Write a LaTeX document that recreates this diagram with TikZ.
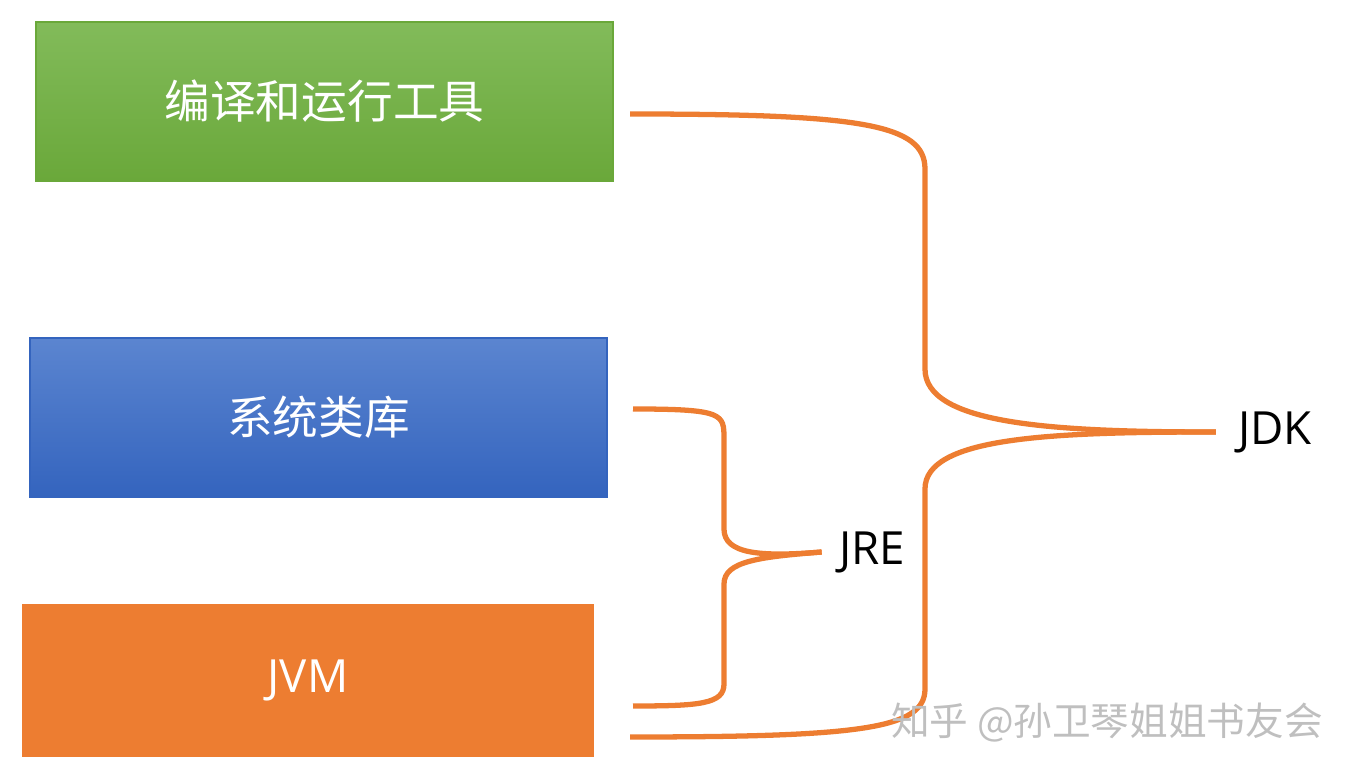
\documentclass[tikz,border=0pt]{standalone}
\usepackage{fontspec}
\setmainfont{Open Sans}
\newfontfamily\cjk{Noto Sans CJK SC}
\definecolor{brOrange}{HTML}{ED7D31}
\definecolor{gTop}{HTML}{82BB5A}
\definecolor{gBot}{HTML}{6AA83A}
\definecolor{bTop}{HTML}{5B85D0}
\definecolor{bBot}{HTML}{3464BE}

\begin{document}
\begin{tikzpicture}
		\tikzstyle{Box} = [rectangle, text centered, text=white, font=\cjk\fontsize{13}{15}\selectfont, line width=0.6pt]
		\tikzstyle{brace} = [draw=brOrange, line width=1.5pt]
		\tikzstyle{Label} = [font=\fontsize{13}{15}\selectfont, text=black]

		\useasboundingbox (0,0) rectangle (13.64,7.79);

		\node (tools) [Box, minimum width=5.77cm, minimum height=1.59cm, top color=gTop, bottom color=gBot, draw=gBot] at (3.245,6.775) {编译和运行工具};
		\node (lib) [Box, minimum width=5.77cm, minimum height=1.59cm, top color=bTop, bottom color=bBot, draw=bBot] at (3.185,3.615) {系统类库};
		\node (jvm) [Box, minimum width=5.70cm, minimum height=1.51cm, fill=brOrange, draw=brOrange, font=\fontsize{13}{15}\selectfont] at (3.08,0.985) {JVM};

		\node (jre) [Label] at (8.72,2.27) {JRE};
		\node (jdk) [Label] at (12.75,3.47) {JDK};

		% JDK brace
		\coordinate (jdkTop) at (6.30,6.65);
		\coordinate (jdkBot) at (6.30,0.42);
		\coordinate (jdkTip) at ([xshift=-1mm]jdk.west);
		\draw [brace] (jdkTop) .. controls (8.6,6.65) and (9.25,6.55) .. (9.25,6.1) -- (9.25,4.1) .. controls (9.25,3.55) and (10.5,3.47) .. (jdkTip);
		\draw [brace] (jdkTip) .. controls (10.5,3.47) and (9.25,3.42) .. (9.25,2.9) -- (9.25,0.9) .. controls (9.25,0.5) and (8.6,0.42) .. (jdkBot);

		% JRE brace
		\coordinate (jreTop) at (6.33,3.70);
		\coordinate (jreBot) at (6.33,0.73);
		\coordinate (jreTip) at ([xshift=-0.5mm]jre.west);
		\draw [brace] (jreTop) .. controls (7.24,3.70) and (7.24,3.65) .. (7.24,3.4) -- (7.24,2.5) .. controls (7.24,2.25) and (7.6,2.22) .. (jreTip);
		\draw [brace] (jreTip) .. controls (7.6,2.22) and (7.24,2.18) .. (7.24,1.95) -- (7.24,0.95) .. controls (7.24,0.75) and (7.0,0.73) .. (jreBot);

		\node (mark) [font=\cjk\fontsize{11}{13}\selectfont, text=black!25] at (11.07,0.56) {知乎 @孙卫琴姐姐书友会};
\end{tikzpicture}
\end{document}
